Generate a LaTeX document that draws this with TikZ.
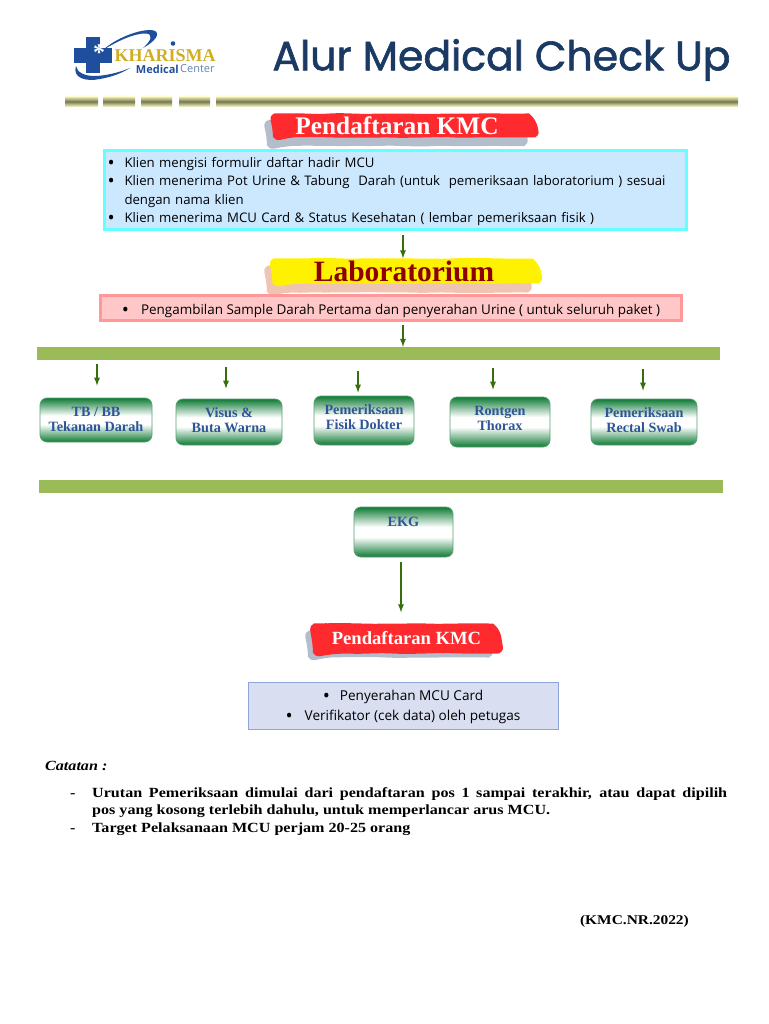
\documentclass[tikz,border=0pt]{standalone}
\usepackage{fontspec}
\setmainfont{Liberation Serif}
\newfontfamily\bodyfont{Open Sans}
\newfontfamily\titlefont[FakeBold=1.5]{Poppins}
\newfontfamily\notefont[FakeStretch=1.15]{Liberation Serif}
\usetikzlibrary{decorations.pathmorphing}
\definecolor{kmcnavy}{HTML}{1B3A63}
\definecolor{kmcblue}{HTML}{1F4E9C}
\definecolor{kmcgold}{HTML}{D0AE22}
\definecolor{kmcgreen}{HTML}{9BBB59}
\definecolor{kmcarrow}{HTML}{376F0A}
\definecolor{kmcdark}{HTML}{0F7A35}
\definecolor{kmctext}{HTML}{2F5597}
\definecolor{kmcred}{HTML}{FF2A2E}
\definecolor{kmcgrey}{HTML}{B4BDCB}
\definecolor{kmcpeach}{HTML}{EFC4B2}
\definecolor{kmcsky}{HTML}{CCE8FF}
\definecolor{kmccyan}{HTML}{66FFFF}
\definecolor{kmcrose}{HTML}{FFC7C7}
\definecolor{kmcpink}{HTML}{FF9999}
\definecolor{kmclilac}{HTML}{D9DFF0}
\definecolor{kmcedge}{HTML}{8EA5DB}
\definecolor{kmcpale}{HTML}{FFFFCC}
\definecolor{kmcolive}{HTML}{77774F}
\pgfdeclareverticalshading{boxfade}{100bp}{color(0bp)=(kmcdark); color(25bp)=(kmcdark); color(45bp)=(white); color(55bp)=(white); color(75bp)=(kmcdark); color(100bp)=(kmcdark)}
\tikzset{
  flow/.style={-latex,draw=kmcarrow,line width=1.7pt},
  blob/.style={inner sep=0pt,rounded corners=7pt,decorate,decoration={random steps,segment length=13pt,amplitude=0.5pt,pre=lineto,pre length=10pt,post=lineto,post length=10pt}},
  testbox/.style={draw=kmcdark!70,line width=0.8pt,rounded corners=7pt,shade,shading=boxfade,
    inner sep=0pt,align=center,text=kmctext,font=\bfseries\fontsize{14.2}{15}\selectfont},
  greenbar/.style={fill=kmcgreen,inner sep=0pt,minimum height=13pt},
  rulebar/.style={top color=kmcpale,bottom color=kmcpale,middle color=kmcolive,inner sep=0pt,minimum height=11pt},
  listbox/.style={inner sep=0pt,align=left,font=\bodyfont\fontsize{13.2}{18.3}\selectfont},
  notetext/.style={anchor=north west,inner sep=0pt,font=\notefont\bfseries\fontsize{14}{17.6}\selectfont},
}
\newcommand{\kmcdot}{\raisebox{-2pt}{\fontsize{19}{18}\selectfont\textbullet}}
\newcommand{\listitem}[1]{\par\hangindent=17pt\hangafter=1\noindent\hbox to 17pt{\kmcdot\hfil}#1}
\begin{document}
\begin{tikzpicture}[x=1pt,y=-1pt]
  \useasboundingbox (0,0) rectangle (768,1024);

  % logo
  \fill[kmcblue] (76,66) .. controls (72,78) and (86,82) .. (100,79) .. controls (112,77) and (122,73) .. (130,68) .. controls (118,73) and (104,76) .. (94,76) .. controls (84,76) and (77,72) .. (76,66);
  \fill[kmcblue] (103,50) .. controls (116,38) and (138,30) .. (150,30) .. controls (160,30) and (161,38) .. (143,48) .. controls (152,40) and (153,34) .. (146,33.5) .. controls (134,33) and (116,42) .. (103,50);
  \node[fill=kmcblue,minimum width=14pt,minimum height=36pt,inner sep=0pt] (CrossV) at (93,55.5) {};
  \node[fill=kmcblue,minimum width=38pt,minimum height=15pt,inner sep=0pt] (CrossH) at (93,55.5) {};
  \node[text=white,inner sep=0pt,font=\bfseries\fontsize{24}{24}\selectfont] (Star) at (99,53) {*};
  \node[text=kmcgold,inner sep=0pt,font=\bfseries\fontsize{18}{20}\selectfont] (Kharisma) at (165,56) {KHARISMA};
  \fill[kmcblue] (173,43.5) circle (2.3pt);
  \node[text=kmcblue,inner sep=0pt,anchor=east,font=\bodyfont\bfseries\fontsize{11}{11}\selectfont] (Medical) at (179,69) {Medical};
  \node[text=kmcblue!70,inner sep=0pt,anchor=west,font=\bodyfont\fontsize{11}{11}\selectfont] (Center) at (180,69) {Center};

  \node[text=kmcnavy,inner sep=0pt,font=\titlefont\fontsize{41}{44}\selectfont] (Title) at (501.5,60) {Alur Medical Check Up};

  \node[rulebar,minimum width=33pt] (Rule1) at (81.5,101.5) {};
  \node[rulebar,minimum width=32pt] (Rule2) at (119,101.5) {};
  \node[rulebar,minimum width=31pt] (Rule3) at (156.5,101.5) {};
  \node[rulebar,minimum width=31pt] (Rule4) at (194.5,101.5) {};
  \node[rulebar,minimum width=522pt] (Rule5) at (477,101.5) {};

  \node[blob,fill=kmcgrey,minimum width=258pt,minimum height=26pt] (RegShadow1) at (396,133) {};
  \node[blob,fill=kmcred,text=white,minimum width=263pt,minimum height=24pt,font=\bfseries\fontsize{25.3}{26}\selectfont] (Reg1) at (404.5,125.5) {Pendaftaran KMC\hspace*{15pt}};

  \node[listbox,draw=kmccyan,fill=kmcsky,line width=3pt,minimum width=582pt,minimum height=79pt,text width=575pt,inner ysep=-4pt] (Info) at (395,190.5) {
    \listitem{Klien mengisi formulir daftar hadir MCU}
    \listitem{Klien menerima Pot Urine \& Tabung\ \ Darah (untuk\ \ pemeriksaan laboratorium ) sesuai\newline dengan nama klien}
    \listitem{Klien menerima MCU Card \& Status Kesehatan ( lembar pemeriksaan fisik )}
    \par\nointerlineskip\hbox{\rule{0pt}{6pt}}
  };

  \node[blob,fill=kmcpeach,minimum width=262pt,minimum height=27pt] (LabShadow) at (398,279) {};
  \node[blob,fill=yellow,text=red!55!black,minimum width=267pt,minimum height=25pt,font=\bfseries\fontsize{29.5}{30}\selectfont] (Lab) at (406,271) {Laboratorium\hspace*{4pt}};

  \node[listbox,draw=kmcpink,fill=kmcrose,line width=3pt,minimum width=581pt,minimum height=25pt,align=center,text height=12pt,text depth=0pt,font=\bodyfont\fontsize{13.45}{18.3}\selectfont] (Sample) at (391,308) {\kmcdot\hspace{12pt}Pengambilan Sample Darah Pertama dan penyerahan Urine ( untuk seluruh paket )};

  \node[greenbar,minimum width=683pt] (Bar1) at (378.5,353.5) {};

  \node[testbox,minimum width=112pt,minimum height=44pt,text depth=1pt] (Box1) at (96,420) {TB / BB\\Tekanan Darah};
  \node[testbox,minimum width=106pt,minimum height=46pt,text depth=3pt] (Box2) at (229,422) {Visus \&\\Buta Warna};
  \node[testbox,minimum width=100pt,minimum height=49pt,text depth=7pt] (Box3) at (364,420.5) {Pemeriksaan\\Fisik Dokter};
  \node[testbox,minimum width=100pt,minimum height=50pt,text depth=7pt] (Box4) at (500,422) {Rontgen\\Thorax};
  \node[testbox,minimum width=106pt,minimum height=46pt,text depth=3pt] (Box5) at (644,422) {Pemeriksaan\\Rectal Swab};

  \node[greenbar,minimum width=684pt] (Bar2) at (381,486.5) {};

  \node[testbox,minimum width=99pt,minimum height=50pt,text depth=21pt] (Ekg) at (403.5,532) {EKG};

  \node[blob,fill=kmcgrey,minimum width=182pt,minimum height=27pt] (RegShadow2) at (399,644) {};
  \node[blob,fill=kmcred,text=white,minimum width=187pt,minimum height=30pt,font=\bfseries\fontsize{18.6}{22}\selectfont] (Reg2) at (406.5,638.5) {Pendaftaran KMC};

  \node[listbox,draw=kmcedge,fill=kmclilac,line width=1pt,minimum width=310pt,minimum height=47pt,align=center,text depth=0pt,font=\bodyfont\fontsize{13.6}{18.3}\selectfont] (Final) at (403,705.5) {\kmcdot\hspace{10pt}Penyerahan MCU Card\\[1.7pt]\kmcdot\hspace{12pt}Verifikator (cek data) oleh petugas};

  \node[inner sep=0pt,anchor=west,font=\notefont\bfseries\itshape\fontsize{14}{16}\selectfont] (Catatan) at (45,766) {Catatan :};
  \node[notetext] (Dash1) at (70,784.5) {\strut-};
  \node[notetext,text width=635pt,align=justify] (Note1) at (92,784.5) {\strut Urutan Pemeriksaan dimulai dari pendaftaran pos 1 sampai terakhir, atau dapat dipilih\linebreak pos yang kosong terlebih dahulu, untuk memperlancar arus MCU.};
  \node[notetext] (Dash2) at (70,819.5) {\strut-};
  \node[notetext] (Note2) at (92,819.5) {\strut Target Pelaksanaan MCU perjam 20-25 orang};
  \node[inner sep=0pt,anchor=east,font=\notefont\bfseries\fontsize{13.4}{16}\selectfont] (Code) at (689,921) {(KMC.NR.2022)};

  \coordinate (Col0) at (403,0);
  \coordinate (Col1) at (97,0);
  \coordinate (Col2) at (226,0);
  \coordinate (Col3) at (358,0);
  \coordinate (Col4) at (493,0);
  \coordinate (Col5) at (643,0);
  \coordinate (Col6) at (401,0);

  \draw [flow,shorten <=3pt](Info.south -| Col0) -- (Lab.north -| Col0);
  \draw [flow,shorten <=3pt](Sample.south -| Col0) -- (Bar1.north -| Col0);
  \draw [flow,shorten <=4pt,shorten >=12pt](Bar1.south -| Col1) -- (Box1.north -| Col1);
  \draw [flow,shorten <=7pt,shorten >=10pt](Bar1.south -| Col2) -- (Box2.north -| Col2);
  \draw [flow,shorten <=11pt,shorten >=3pt](Bar1.south -| Col3) -- (Box3.north -| Col3);
  \draw [flow,shorten <=8pt,shorten >=7pt](Bar1.south -| Col4) -- (Box4.north -| Col4);
  \draw [flow,shorten <=9pt,shorten >=8pt](Bar1.south -| Col5) -- (Box5.north -| Col5);
  \draw [flow,shorten <=5pt,shorten >=11pt](Ekg.south -| Col6) -- (Reg2.north -| Col6);
\end{tikzpicture}
\end{document}
